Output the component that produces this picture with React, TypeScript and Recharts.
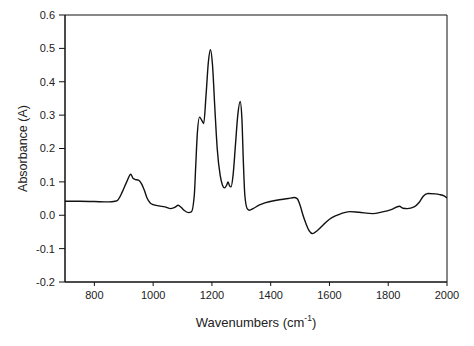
import React from "react";
import {
  Label,
  Line,
  LineChart,
  ReferenceArea,
  XAxis,
  YAxis,
} from "recharts";

// FTIR spectrum
const wavenumbers = [
  700, 750, 800, 850, 870, 880, 895, 910, 924, 932, 940, 950, 960, 970, 980,
  990, 1000, 1020, 1040, 1060, 1075, 1085, 1095, 1105, 1120, 1130, 1140, 1145,
  1150, 1158, 1165, 1172, 1180, 1188, 1195, 1202, 1210, 1218, 1228, 1236, 1243,
  1250, 1255, 1260, 1265, 1272, 1280, 1288, 1296, 1302, 1307, 1312, 1320, 1328,
  1340, 1360, 1380, 1420, 1460, 1480, 1490, 1500, 1510, 1520, 1530, 1543, 1560,
  1580, 1600, 1620, 1640, 1668, 1700, 1747, 1780, 1810, 1838, 1850, 1865, 1888,
  1905, 1920, 1935, 1960, 1975, 1990, 2000,
];
const absorbance = [
  0.042, 0.042, 0.041, 0.04, 0.042, 0.046, 0.07, 0.1, 0.123, 0.11, 0.107,
  0.105, 0.095, 0.075, 0.05, 0.037, 0.032, 0.028, 0.025, 0.02, 0.024, 0.03,
  0.024, 0.015, 0.008, 0.01, 0.06, 0.15, 0.24, 0.294, 0.285, 0.275, 0.36,
  0.46, 0.496, 0.45, 0.32, 0.2, 0.12, 0.09, 0.082, 0.09, 0.1, 0.088, 0.085,
  0.12, 0.21, 0.3, 0.341, 0.29, 0.16, 0.06, 0.02, 0.015, 0.02, 0.03, 0.037,
  0.045, 0.05, 0.053, 0.05, 0.03, 0.0, -0.025, -0.045, -0.055, -0.045, -0.028,
  -0.012, -0.002, 0.005, 0.011, 0.009, 0.005, 0.01, 0.017, 0.027, 0.021, 0.02,
  0.025, 0.038, 0.058, 0.065, 0.064, 0.062, 0.058, 0.052,
];
const xTicks = [800, 1000, 1200, 1400, 1600, 1800, 2000];
const yTicks = [-0.2, -0.1, 0.0, 0.1, 0.2, 0.3, 0.4, 0.5, 0.6];

const data = wavenumbers.map((wn, i) => ({ wn, abs: absorbance[i] }));

const font = "'Liberation Sans', Arial, sans-serif";
const tickStyle = { fontSize: 11, fill: "#222", fontFamily: font };

export default function App() {
  return (
    <div style={{ position: "absolute", left: 0, top: 0, background: "#fff" }}>
      <LineChart
        width={474}
        height={346}
        data={data}
        margin={{ top: 15, right: 27, bottom: 0, left: 0 }}
      >
        <ReferenceArea
          x1={700}
          x2={2000}
          y1={-0.2}
          y2={0.6}
          fill="none"
          stroke="#111"
          strokeWidth={1}
          ifOverflow="visible"
        />
        <XAxis
          dataKey="wn"
          type="number"
          domain={[700, 2000]}
          ticks={xTicks}
          allowDataOverflow
          height={64}
          tickSize={4}
          tickMargin={5}
          stroke="#111"
          tick={tickStyle}
        >
          <Label
            content={({ viewBox }: any) => (
              <text
                x={viewBox.x + viewBox.width / 2}
                y={327}
                textAnchor="middle"
                fontSize={13}
                fontFamily={font}
                fill="#222"
              >
                Wavenumbers (cm
                <tspan dy={-6} fontSize={8.5}>
                  -1
                </tspan>
                <tspan dy={6}>)</tspan>
              </text>
            )}
          />
        </XAxis>
        <YAxis
          type="number"
          domain={[-0.2, 0.6]}
          ticks={yTicks}
          allowDataOverflow
          width={65}
          tickSize={6}
          tickMargin={4}
          stroke="#111"
          tick={tickStyle}
          tickFormatter={(v: number) => v.toFixed(1)}
        >
          <Label
            content={({ viewBox }: any) => {
              const cy = viewBox.y + viewBox.height / 2;
              return (
                <text
                  x={27}
                  y={cy}
                  transform={`rotate(-90, 27, ${cy})`}
                  textAnchor="middle"
                  fontSize={12.5}
                  fontFamily={font}
                  fill="#222"
                >
                  Absorbance (A)
                </text>
              );
            }}
          />
        </YAxis>
        <Line
          type="monotone"
          dataKey="abs"
          stroke="#111"
          strokeWidth={1.4}
          dot={false}
          isAnimationActive={false}
        />
      </LineChart>
    </div>
  );
}
